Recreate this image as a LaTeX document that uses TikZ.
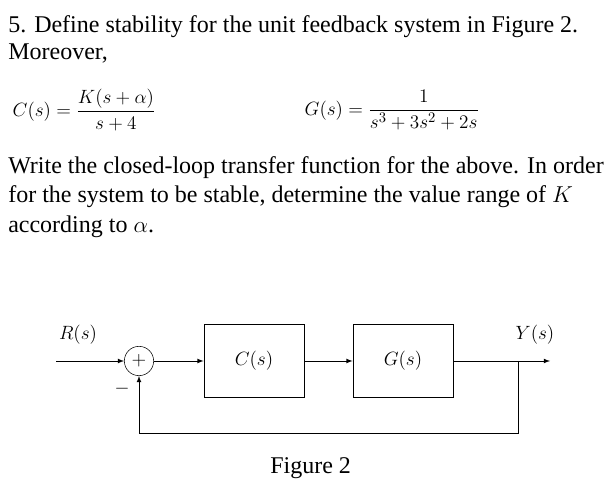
\documentclass[tikz,border=0pt]{standalone}
\usepackage{amsmath}
\usepackage{fontspec}
\setmainfont{Liberation Serif}
\usetikzlibrary{positioning}
\tikzset{
  txt/.style={anchor=base west, inner sep=0pt, font=\fontsize{18}{22}\selectfont},
  blk/.style={draw, semithick, minimum width=75pt, minimum height=55pt, font=\fontsize{15}{18}\selectfont},
  sumnode/.style={draw, circle, minimum size=22pt, inner sep=0pt, font=\fontsize{15}{18}\selectfont},
  sig/.style={-latex, semithick}
}
\begin{document}
\begin{tikzpicture}[x=0.75pt,y=-0.75pt]
  \useasboundingbox (0,0) rectangle (615,502);
  \node[txt] (line1) at (8,33) {5. Define stability for the unit feedback system in Figure 2.};
  \node[txt] (line2) at (8,60) {Moreover,};
  \node[anchor=west, font=\fontsize{15.5}{19}\selectfont] (ceq) at (8,110) {$C(s)=\dfrac{K(s+\alpha)}{s+4}$};
  \node[anchor=west, font=\fontsize{15.5}{19}\selectfont] (geq) at (300,110) {$G(s)=\dfrac{1}{s^3+3s^2+2s}$};
  \node[txt] (line3) at (8,174) {Write the closed-loop transfer function for the above. In order};
  \node[txt] (line4) at (8,203) {for the system to be stable, determine the value range of $K$};
  \node[txt] (line5) at (8,233) {according to $\alpha$.};

  \node[sumnode] (sum) at (139,361) {$+$};
  \node[blk] (cblk) at (254,361) {$C(s)$};
  \node[blk] (gblk) at (403,361) {$G(s)$};
  \coordinate (in) at (56,361);
  \coordinate (out) at (550,361);
  \coordinate (branch) at (518,361);
  \coordinate (fb) at (518,433);
  \node[font=\fontsize{15}{18}\selectfont] (rlab) at (78,335) {$R(s)$};
  \node[font=\fontsize{15}{18}\selectfont] (ylab) at (535,335) {$Y(s)$};
  \node[font=\fontsize{15}{18}\selectfont] (minus) at (122,389) {$-$};
  \node[txt] (fig) at (270,474) {Figure 2};

  \draw[sig] (in) -- (sum);
  \draw[sig] (sum) -- (cblk);
  \draw[sig] (cblk) -- (gblk);
  \draw[sig] (gblk) -- (out);
  \draw[sig] (branch) -- (fb) -| (sum);
\end{tikzpicture}
\end{document}
